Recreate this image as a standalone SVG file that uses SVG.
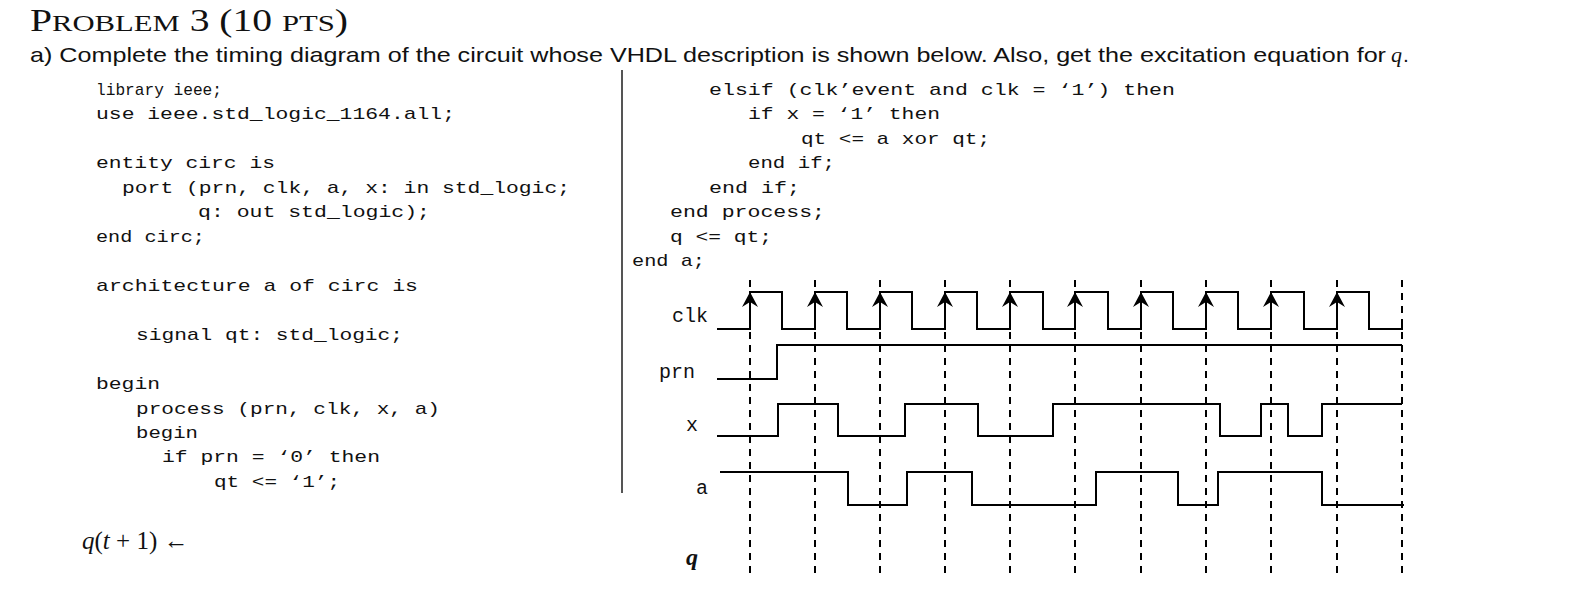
<svg xmlns="http://www.w3.org/2000/svg" width="1582" height="593" viewBox="0 0 1582 593">
<style>
.c{font-family:"Liberation Mono",monospace;font-size:17px;fill:#111}
.w{fill:none;stroke:#000;stroke-width:2}
.d{stroke:#000;stroke-width:2;stroke-dasharray:7,6}
.l{font-family:"Liberation Mono",monospace;font-size:20px;fill:#111}
</style>
<rect width="1582" height="593" fill="#fff"/>
<g id="title">
<text x="30" y="31" font-family="Liberation Serif,serif" font-size="31" fill="#111" textLength="318" lengthAdjust="spacingAndGlyphs">P<tspan font-size="24">ROBLEM</tspan> 3 (10 <tspan font-size="24">PTS</tspan>)</text>
<text x="30" y="62" font-family="Liberation Sans,sans-serif" font-size="21" fill="#111" textLength="1356" lengthAdjust="spacingAndGlyphs">a)  Complete the timing diagram of the circuit whose VHDL description is shown below. Also, get the excitation equation for</text>
<text x="1391" y="62" font-family="Liberation Serif,serif" font-style="italic" font-size="22" fill="#111">q</text><text x="1403" y="62" font-family="Liberation Sans,sans-serif" font-size="21" fill="#111">.</text>
</g>
<g id="code" xml:space="preserve">
<text class="c" x="96" y="95" textLength="126" lengthAdjust="spacingAndGlyphs">library ieee;</text>
<text class="c" x="96" y="119" textLength="359" lengthAdjust="spacingAndGlyphs">use ieee.std_logic_1164.all;</text>
<text class="c" x="96" y="168" textLength="179" lengthAdjust="spacingAndGlyphs">entity circ is</text>
<text class="c" x="122" y="193" textLength="448" lengthAdjust="spacingAndGlyphs">port (prn, clk, a, x: in std_logic;</text>
<text class="c" x="198" y="217" textLength="232" lengthAdjust="spacingAndGlyphs">q: out std_logic);</text>
<text class="c" x="96" y="242" textLength="109" lengthAdjust="spacingAndGlyphs">end circ;</text>
<text class="c" x="96" y="291" textLength="322" lengthAdjust="spacingAndGlyphs">architecture a of circ is</text>
<text class="c" x="136" y="340" textLength="267" lengthAdjust="spacingAndGlyphs">signal qt: std_logic;</text>
<text class="c" x="96" y="389" textLength="64" lengthAdjust="spacingAndGlyphs">begin</text>
<text class="c" x="136" y="414" textLength="304" lengthAdjust="spacingAndGlyphs">process (prn, clk, x, a)</text>
<text class="c" x="136" y="438" textLength="62" lengthAdjust="spacingAndGlyphs">begin</text>
<text class="c" x="162" y="462" textLength="218" lengthAdjust="spacingAndGlyphs">if prn = ‘0’ then</text>
<text class="c" x="214" y="487" textLength="126" lengthAdjust="spacingAndGlyphs">qt &lt;= ‘1’;</text>
<text class="c" x="709" y="95" textLength="466" lengthAdjust="spacingAndGlyphs">elsif (clk’event and clk = ‘1’) then</text>
<text class="c" x="748" y="119" textLength="192" lengthAdjust="spacingAndGlyphs">if x = ‘1’ then</text>
<text class="c" x="801" y="144" textLength="189" lengthAdjust="spacingAndGlyphs">qt &lt;= a xor qt;</text>
<text class="c" x="748" y="168" textLength="87" lengthAdjust="spacingAndGlyphs">end if;</text>
<text class="c" x="709" y="193" textLength="91" lengthAdjust="spacingAndGlyphs">end if;</text>
<text class="c" x="670" y="217" textLength="155" lengthAdjust="spacingAndGlyphs">end process;</text>
<text class="c" x="670" y="242" textLength="102" lengthAdjust="spacingAndGlyphs">q &lt;= qt;</text>
<text class="c" x="632" y="266" textLength="73" lengthAdjust="spacingAndGlyphs">end a;</text>
<line x1="622" y1="70" x2="622" y2="493" stroke="#555" stroke-width="2"/>
</g>
<g id="equation">
<text x="82" y="549" font-family="Liberation Serif,serif" font-size="25" fill="#111"><tspan font-style="italic">q</tspan>(<tspan font-style="italic">t</tspan> + 1) ←</text>
</g>
<g id="labels">
<text class="l" x="708" y="322" text-anchor="end">clk</text>
<text class="l" x="695" y="378" text-anchor="end">prn</text>
<text class="l" x="698" y="431" text-anchor="end">x</text>
<text class="l" x="708" y="494" text-anchor="end">a</text>
<text x="698" y="565" font-family="Liberation Serif,serif" font-style="italic" font-weight="bold" font-size="24" text-anchor="end" fill="#111">q</text>
</g>
<g id="connectors">
<g class="d">
<line x1="750" y1="280" x2="750" y2="574"/><line x1="815" y1="280" x2="815" y2="574"/><line x1="880" y1="280" x2="880" y2="574"/><line x1="945" y1="280" x2="945" y2="574"/><line x1="1010" y1="280" x2="1010" y2="574"/><line x1="1075" y1="280" x2="1075" y2="574"/><line x1="1141" y1="280" x2="1141" y2="574"/><line x1="1206" y1="280" x2="1206" y2="574"/><line x1="1271" y1="280" x2="1271" y2="574"/><line x1="1337" y1="280" x2="1337" y2="574"/><line x1="1402" y1="280" x2="1402" y2="574"/>
</g>
<path class="w" d="M717 329H750V292H782V329H815V292H847V329H880V292H912V329H945V292H977V329H1010V292H1043V329H1075V292H1108V329H1141V292H1173V329H1206V292H1238V329H1271V292H1304V329H1337V292H1369V329H1402V322"/>
<g fill="#000">
<path d="M750 292l-8 15 8-5 8 5z"/><path d="M815 292l-8 15 8-5 8 5z"/><path d="M880 292l-8 15 8-5 8 5z"/><path d="M945 292l-8 15 8-5 8 5z"/><path d="M1010 292l-8 15 8-5 8 5z"/><path d="M1075 292l-8 15 8-5 8 5z"/><path d="M1141 292l-8 15 8-5 8 5z"/><path d="M1206 292l-8 15 8-5 8 5z"/><path d="M1271 292l-8 15 8-5 8 5z"/><path d="M1337 292l-8 15 8-5 8 5z"/>
</g>
<path class="w" d="M717 379H777V345H1402"/>
<path class="w" d="M717 436H778V404H838V436H905V404H978V436H1053V404H1220V436H1261V404H1288V436H1322V404H1402"/>
<path class="w" d="M720 472H848V505H907V472H972V505H1096V472H1178V505H1218V472H1322V505H1404"/>
</g>
</svg>
